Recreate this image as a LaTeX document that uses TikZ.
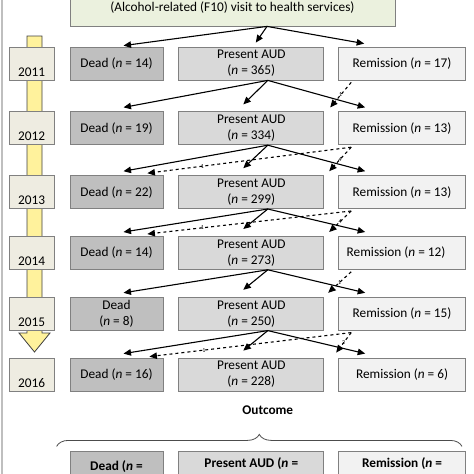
\documentclass[tikz,border=0pt]{standalone}
\usepackage{fontspec}
\setmainfont{Carlito}
\usetikzlibrary{positioning}
\usetikzlibrary{arrows.meta}
\usetikzlibrary{decorations.pathreplacing}

\definecolor{entrygreen}{HTML}{EBF1DE}
\definecolor{deadgray}{HTML}{BFBFBF}
\definecolor{presgray}{HTML}{D9D9D9}
\definecolor{remgray}{HTML}{F2F2F2}
\definecolor{yearbeige}{HTML}{EEECE1}
\definecolor{baryellow}{HTML}{FFF29C}
\definecolor{boxline}{HTML}{808080}

\tikzset{
  box/.style={draw=boxline, line width=0.8pt, minimum height=33pt, inner sep=0pt, align=center, font=\fontsize{13.3}{16}\selectfont},
  deadbox/.style={box, fill=deadgray, minimum width=93pt},
  presbox/.style={box, fill=presgray, minimum width=145pt},
  rembox/.style={box, fill=remgray, minimum width=127pt},
  yearbox/.style={box, fill=yearbeige, minimum width=45pt, text height=29pt, text depth=4pt},
  endbox/.style={font=\fontsize{13.3}{16}\selectfont\bfseries},
  flow/.style={-{Triangle[length=7.5pt,width=6.5pt]}, line width=1.1pt},
  back/.style={flow, dashed},
  tally/.style={font=\fontsize{6}{6}\selectfont, inner sep=0.5pt}
}

\begin{document}
\begin{tikzpicture}[x=1pt,y=-1pt]
\useasboundingbox (0,0) rectangle (474,474);
\clip (0,0) rectangle (474,474);
\draw[gray!50, line width=1.5pt] (2,0) -- (2,474);

% time line
\draw[fill=baryellow, draw=black!75, line width=0.8pt]
  (27,36) -- (42,36) -- (42,333) -- (50,333) -- (34.5,352) -- (19,333) -- (27,333) -- cycle;

% entry
\node[box, fill=entrygreen, minimum width=325pt, text height=31pt, text depth=15pt] (entry) at (232.5,3) {(Alcohol-related (F10) visit to health services)};

% rows
\node[deadbox] (dead1) at (116.5,63.5) {Dead (\textit{n} = 14)};
\node[presbox, right=15pt of dead1] (pres1) {Present AUD\\(\textit{n} = 365)};
\node[rembox, right=14pt of pres1] (rem1) {Remission (\textit{n} = 17)};

\node[deadbox, below=31pt of dead1] (dead2) {Dead (\textit{n} = 19)};
\node[presbox, right=15pt of dead2] (pres2) {Present AUD\\(\textit{n} = 334)};
\node[rembox, right=14pt of pres2] (rem2) {Remission (\textit{n} = 13)};

\node[deadbox, below=30pt of dead2] (dead3) {Dead (\textit{n} = 22)};
\node[presbox, right=15pt of dead3] (pres3) {Present AUD\\(\textit{n} = 299)};
\node[rembox, right=14pt of pres3] (rem3) {Remission (\textit{n} = 13)};

\node[deadbox, below=27pt of dead3] (dead4) {Dead (\textit{n} = 14)};
\node[presbox, right=15pt of dead4] (pres4) {Present AUD\\(\textit{n} = 273)};
\node[rembox, right=14pt of pres4] (rem4) {\hspace*{-12pt}Remission (\textit{n} = 12)};

\node[deadbox, below=27pt of dead4] (dead5) {Dead\\(\textit{n} = 8)};
\node[presbox, right=15pt of dead5] (pres5) {Present AUD\\(\textit{n} = 250)};
\node[rembox, right=14pt of pres5] (rem5) {Remission (\textit{n} = 15)};

\node[deadbox, below=27pt of dead5] (dead6) {Dead (\textit{n} = 16)};
\node[presbox, right=15pt of dead6] (pres6) {Present AUD\\(\textit{n} = 228)};
\node[rembox, right=14pt of pres6] (rem6) {Remission (\textit{n} = 6)};

% years
\foreach \i/\yr in {1/2011,2/2012,3/2013,4/2014,5/2015,6/2016}
  \node[yearbox, left=15pt of dead\i] (y\yr) {\yr};

% flows from present AUD
\coordinate (src0) at ([xshift=34.5pt]entry.south);
\path (src0) edge[flow] ([xshift=7pt,yshift=1pt]dead1.north)
             edge[flow] ([xshift=4.5pt,yshift=4pt]pres1.north)
             edge[flow] ([xshift=26pt,yshift=3pt]rem1.north west);
\foreach \i/\j in {1/2,2/3,3/4,4/5,5/6}{
  \coordinate (src\i) at ([xshift=16.5pt]pres\i.south);
  \path (src\i) edge[flow] ([xshift=7pt,yshift=4pt]dead\j.north)
                edge[flow] ([xshift=-8pt,yshift=7pt]pres\j.north)
                edge[flow] ([xshift=27pt,yshift=4pt]rem\j.north west);
}

% flows back from remission
\foreach \i in {1,...,5}
  \coordinate (back\i) at ([xshift=13pt,yshift=-2pt]rem\i.south west);
\draw[back] (back1) -- node[tally] {1} ([xshift=6pt,yshift=4pt]pres2.north east);
\draw[back] (back2) -- node[tally] {4} ([xshift=5pt,yshift=4pt]pres3.north east);
\draw[back] (back2) -- node[tally, pos=0.73] {1} ([xshift=-16pt,yshift=2pt]dead3.north east);
\draw[back] (back3) -- node[tally] {4} ([xshift=5pt,yshift=4pt]pres4.north east);
\draw[back] (back3) -- node[tally, pos=0.73] {1} ([xshift=-16pt,yshift=2pt]dead4.north east);
\draw[back] (back4) -- node[tally] {1} ([xshift=4pt,yshift=4pt]pres5.north east);
\draw[back] (back5) -- node[tally] {2} ([xshift=12pt,yshift=5pt]pres6.north east);
\draw[back] (back5) -- node[tally, pos=0.73] {1} ([xshift=-14pt,yshift=1pt]dead6.north east);

% outcome
\node[endbox, below=11pt of pres6, xshift=16.5pt] (outcome) {Outcome};
\node[deadbox, endbox, below=60pt of dead6, text height=19pt, text depth=21pt] (deadB) {Dead (\textit{n} =};
\node[presbox, endbox, right=15pt of deadB, text height=16pt, text depth=24pt] (presB) {Present AUD (\textit{n} =};
\node[rembox, endbox, right=14pt of presB, text height=16pt, text depth=24pt] (remB) {Remission (\textit{n} =};
\draw[decorate, decoration={brace, amplitude=12pt}, black!70, line width=0.8pt]
  ([xshift=-13pt,yshift=5pt]deadB.north west) -- ([xshift=-4pt,yshift=5pt]remB.north east);
\end{tikzpicture}
\end{document}
